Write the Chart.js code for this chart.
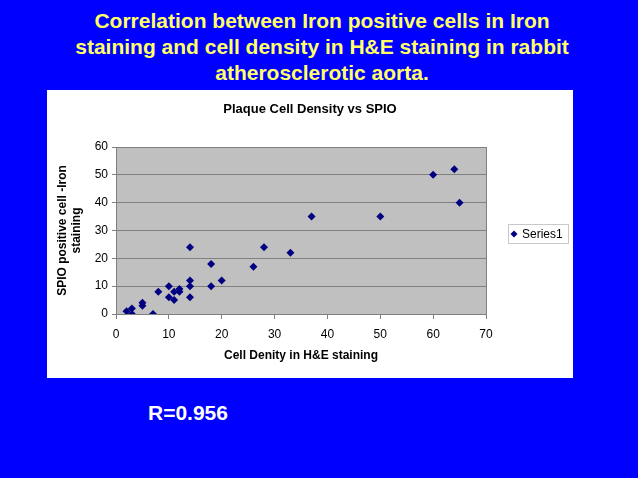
<!DOCTYPE html>
<html>
<head>
<meta charset="utf-8">
<script src="https://cdn.jsdelivr.net/npm/chart.js@4"></script>
<style>
  body { margin: 0; width: 638px; height: 478px; background: #0000ff; overflow: hidden; font-family: "Liberation Sans", Arial, sans-serif; }
  #heading { position: absolute; left: 0; top: 8px; width: 644px; text-align: center; color: #ffff66; font-weight: bold; font-size: 21px; line-height: 26px; }
  #box { position: absolute; left: 47px; top: 90px; width: 526px; height: 288px; background: #fff; }
  #r { position: absolute; left: 148px; top: 401px; color: #fff; font-weight: bold; font-size: 21px; }
</style>
</head>
<body>
<div id="heading">Correlation between Iron positive cells in Iron<br>staining and cell density in H&amp;E staining in rabbit<br>atherosclerotic aorta.</div>
<div id="box"><canvas id="chart" width="526" height="288"></canvas></div>
<div id="r">R=0.956</div>
<script>
const cellDensity = [2, 3, 3, 5, 5, 7, 8, 10, 10, 11, 11, 12, 12, 14, 14, 14, 14, 18, 18, 20, 26, 28, 33, 37, 50, 60, 64, 65];
const ironPositive = [1, 2, 0, 4, 3, 0, 8, 10, 6, 8, 5, 9, 8, 24, 12, 10, 6, 18, 10, 12, 17, 24, 22, 35, 35, 50, 52, 40];
const seriesName = "Series1";
const chartTitle = "Plaque Cell Density vs SPIO";

const points = cellDensity.map((x, i) => ({ x: x, y: ironPositive[i] }));
const font = "'Liberation Sans', Arial, sans-serif";

const plotBg = {
    id: "plotBg",
    beforeDraw(chart) {
        const { ctx, chartArea: a } = chart;
        ctx.save();
        ctx.fillStyle = "#c0c0c0";
        ctx.fillRect(a.left, a.top, a.right - a.left, a.bottom - a.top);
        // chart title, centred on the whole white box
        ctx.fillStyle = "#000";
        ctx.font = "bold 13px " + font;
        ctx.textAlign = "center";
        ctx.textBaseline = "middle";
        ctx.fillText(chartTitle, chart.width / 2, 19);
        ctx.restore();
    },
    afterDatasetsDraw(chart) {
        const { ctx, chartArea: a } = chart;
        ctx.save();
        ctx.strokeStyle = "#808080";
        ctx.lineWidth = 1;
        ctx.strokeRect(Math.round(a.left) + 0.5, Math.round(a.top) + 0.5, Math.round(a.right - a.left), Math.round(a.bottom - a.top));
        // legend box
        const ds = chart.data.datasets[0];
        ctx.strokeStyle = "#c8c8c8";
        ctx.strokeRect(461.5, 134.5, 60, 19);
        ctx.fillStyle = ds.pointBackgroundColor;
        ctx.beginPath();
        ctx.moveTo(467, 140.5); ctx.lineTo(470.5, 144); ctx.lineTo(467, 147.5); ctx.lineTo(463.5, 144);
        ctx.closePath();
        ctx.fill();
        ctx.fillStyle = "#000";
        ctx.font = "12px " + font;
        ctx.textBaseline = "middle";
        ctx.fillText(ds.label, 475, 144.5);
        ctx.restore();
    }
};

new Chart(document.getElementById("chart"), {
    type: "scatter",
    data: {
        datasets: [{
            label: seriesName,
            data: points,
            pointStyle: "rectRot",
            pointRadius: 4,
            pointBackgroundColor: "#000080",
            pointBorderColor: "#000080",
            pointBorderWidth: 0
        }]
    },
    options: {
        responsive: false,
        animation: false,
        layout: { padding: { right: 87, left: 0, bottom: 0, top: 57 } },
        plugins: {
            legend: { display: false },
            tooltip: { enabled: false },
            title: { display: false }
        },
        scales: {
            x: {
                type: "linear",
                min: 0,
                max: 70,
                afterFit(scale) { scale.height = 64; },
                ticks: { stepSize: 10, color: "#000", font: { family: font, size: 12 }, padding: 8 },
                grid: { drawOnChartArea: false, tickLength: 5, color: "#808080" },
                border: { color: "#808080" },
                title: {
                    display: true,
                    text: "Cell Denity in H&E staining",
                    color: "#000",
                    font: { family: font, size: 12, weight: "bold" },
                    padding: { top: 4, bottom: 15 }
                }
            },
            y: {
                min: 0,
                max: 60,
                afterFit(scale) { scale.width = 69; },
                ticks: { stepSize: 10, color: "#000", font: { family: font, size: 12 }, padding: 4 },
                grid: { color: "#808080", tickLength: 4 },
                border: { color: "#808080" },
                title: {
                    display: true,
                    text: ["SPIO positive cell -Iron", "staining"],
                    color: "#000",
                    font: { family: font, size: 12, weight: "bold" },
                    padding: { top: 8 }
                }
            }
        }
    },
    plugins: [plotBg]
});
</script>
</body>
</html>
